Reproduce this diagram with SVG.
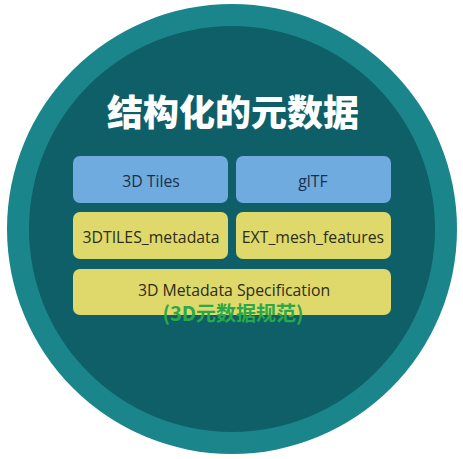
<svg xmlns="http://www.w3.org/2000/svg" width="463" height="459" viewBox="0 0 463 459">
<style>
.box{stroke:none}
.blue{fill:#70abe0}
.yel{fill:#dfd96c}
.lbl{font-family:"Open Sans","Liberation Sans",sans-serif;font-size:15.8px;text-anchor:middle}
.dark1{fill:#1b2f4a}
.dark2{fill:#2e2c16}
</style>
<rect width="463" height="459" fill="#ffffff"/>
<g id="background">
<circle cx="232" cy="229" r="225" fill="#1a868b"/>
<circle cx="232" cy="229" r="203" fill="#0f5f69"/>
</g>
<g id="title">
<text x="233" y="126" font-family="'Noto Sans CJK SC',sans-serif" font-weight="900" font-size="36" fill="#ffffff" text-anchor="middle">结构化的元数据</text>
</g>
<g id="n-3dtiles">
<rect class="box blue" x="73" y="156" width="155" height="47" rx="7"/>
<text class="lbl dark1" x="151" y="187">3D Tiles</text>
</g>
<g id="n-gltf">
<rect class="box blue" x="236" y="156" width="155" height="47" rx="7"/>
<text class="lbl dark1" x="313" y="187">glTF</text>
</g>
<g id="n-3dtiles-metadata">
<rect class="box yel" x="73" y="212" width="155" height="47" rx="7"/>
<text class="lbl dark2" x="151" y="243">3DTILES_metadata</text>
</g>
<g id="n-ext-mesh">
<rect class="box yel" x="236" y="212" width="155" height="47" rx="7"/>
<text class="lbl dark2" x="313" y="243">EXT_mesh_features</text>
</g>
<g id="n-spec">
<rect class="box yel" x="73" y="269" width="318" height="46" rx="7"/>
<text class="lbl dark2" x="234" y="296">3D Metadata Specification</text>
<text x="233" y="321" font-family="'Noto Sans CJK SC',sans-serif" font-weight="700" font-size="20" fill="#2aa84a" text-anchor="middle">(3D元数据规范)</text>
</g>
<g id="connectors"></g>
</svg>
